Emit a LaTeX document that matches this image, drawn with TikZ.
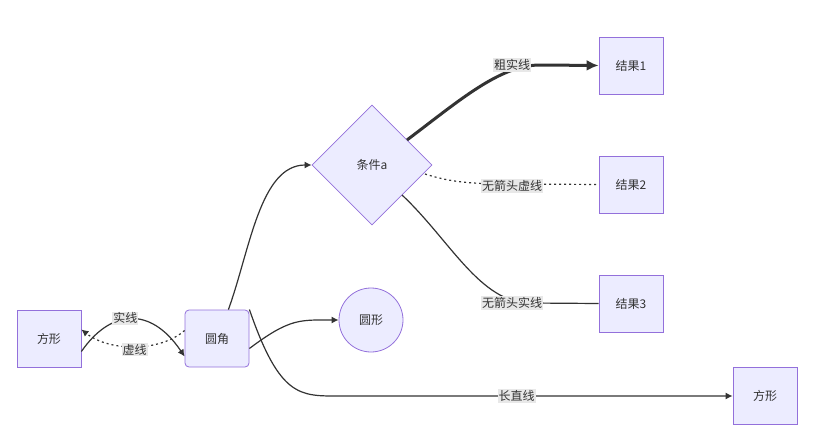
\documentclass[tikz,border=0pt]{standalone}
\usepackage{fontspec}
\setmainfont{Noto Sans CJK SC}
\usetikzlibrary{shapes.geometric,arrows.meta}
\definecolor{nfill}{HTML}{ECECFF}
\definecolor{nstroke}{HTML}{9370DB}
\definecolor{ln}{HTML}{333333}
\definecolor{lbl}{HTML}{E8E8E8}
\tikzset{
  box/.style={draw=nstroke,fill=nfill,line width=0.8pt,minimum width=64pt,minimum height=57pt,inner sep=0pt,text=ln,font=\fontsize{12}{14}\selectfont},
  rbox/.style={box,rounded corners=4pt},
  circ/.style={circle,draw=nstroke,fill=nfill,line width=0.8pt,minimum size=64pt,inner sep=0pt,text=ln,font=\fontsize{12}{14}\selectfont},
  dia/.style={diamond,draw=nstroke,fill=nfill,line width=0.8pt,minimum width=120pt,minimum height=120pt,inner sep=0pt,text=ln,font=\fontsize{12}{14}\selectfont},
  edge/.style={draw=ln,line width=1.2pt},
  arr/.style={edge,-{Latex[length=7pt,width=7pt]}},
  dots/.style={dash pattern=on 2pt off 3pt},
  lab/.style={fill=lbl,text=ln,inner sep=1pt,font=\fontsize{12}{14}\selectfont}
}
\begin{document}
\begin{tikzpicture}[x=1pt,y=-1pt]
\useasboundingbox (0,0) rectangle (815,447);
\node[box] (a) at (49,338.5) {方形};
\node[rbox] (b) at (217,338.5) {圆角};
\node[circ] (c) at (371,320) {圆形};
\node[dia] (d) at (372,165) {条件a};
\node[box] (e) at (631,65.5) {结果1};
\node[box] (f) at (631,184.5) {结果2};
\node[box] (g) at (631,303.5) {结果3};
\node[box] (h) at (765,396) {方形};
\coordinate (ab1) at ([yshift=-13pt]a.east);
\coordinate (ba1) at ([yshift=-18pt]b.west);
\coordinate (ba2) at ([yshift=8pt]b.west);
\coordinate (ab2) at ([yshift=9pt]a.east);
\draw[arr] (ab1) .. controls (110,310) and (150,305) .. (ba1) node[lab,pos=0.45,above=-6pt] {实线};
\draw[arr,dots] (ba2) .. controls (160,352) and (110,352) .. (ab2) node[lab,pos=0.5,below=-4pt] {虚线};
\draw[arr] (b.north east) ++(-21,0) .. controls (250,250) and (260,165) .. (d.west);
\draw[arr] ([yshift=-10pt]b.east) .. controls (290,318) and (300,320) .. (c.west);
\draw[arr] ([yshift=29pt]b.east) .. controls (280,398) and (300,396) .. (340,396) -- (h.west) node[lab,pos=0.45] {长直线};
\draw[edge,line width=3pt,-{Latex[length=12pt,width=11pt]}] (407,140) .. controls (460,100) and (500,65) .. (540,65) -- (e.west);
\node[lab] at (512,65) {粗实线};
\draw[edge,dots] (425,174) .. controls (450,182) and (470,184) .. (512,184) -- (f.west);
\node[lab] at (512,186) {无箭头虚线};
\draw[edge] (402,195) .. controls (450,240) and (480,303) .. (530,303) -- (g.west);
\node[lab] at (512,303) {无箭头实线};
\end{tikzpicture}
\end{document}
